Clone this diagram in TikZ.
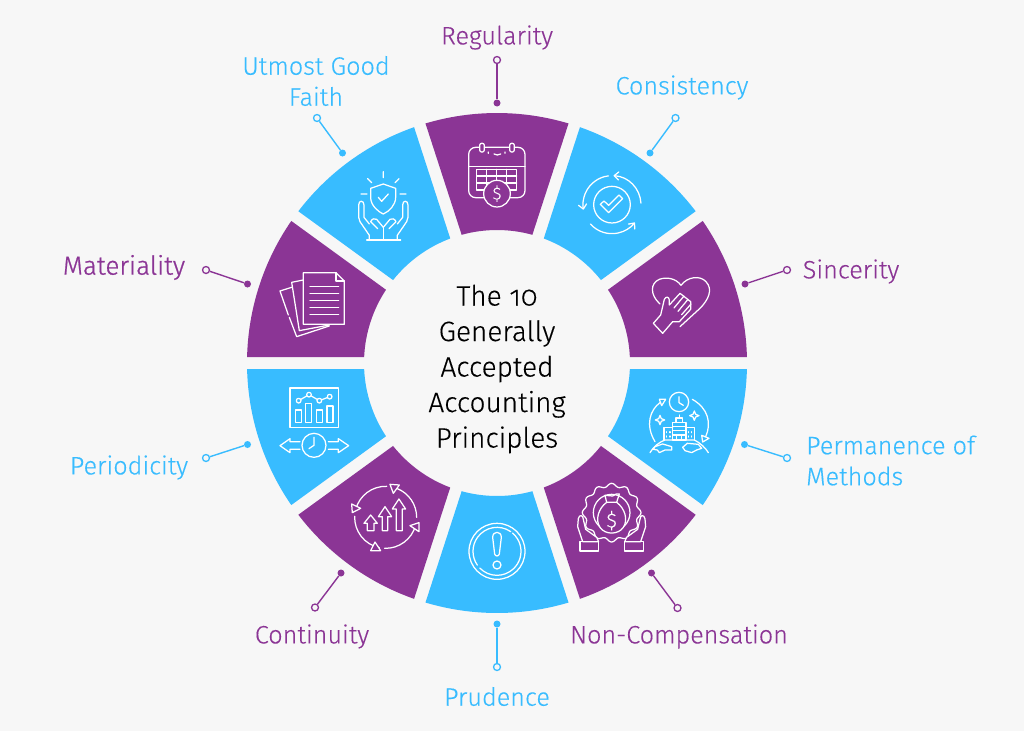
\documentclass[tikz,border=0pt]{standalone}
\usepackage{fontspec}
\usetikzlibrary{arrows.meta}
\setmainfont{Fira Sans Light}[Numbers=OldStyle,FakeBold=0.3,AutoFakeBold=0]
\definecolor{pagebg}{HTML}{F7F7F7}
\definecolor{purp}{HTML}{8B3595}
\definecolor{skyb}{HTML}{38BCFF}
\newcommand{\icarc}[5][icon]{\draw[#1] (#2) ++(-#4:#3) arc[start angle=-#4,end angle=-#5,radius=#3];}
\tikzset{
  icon/.style={draw=white,line width=1.25pt,line join=round,line cap=round},
  iconarrow/.style={icon,-{Straight Barb[length=4.5pt,width=8pt,round]}},
  signtext/.style={text=white,inner sep=0pt,font=\fontsize{17}{17}\selectfont},
  labeltext/.style={inner sep=0pt,align=center,font=\fontsize{25.2}{31}\selectfont},
  leaddot/.style={circle,inner sep=0pt,minimum size=7pt},
  leadring/.style={circle,inner sep=0pt,minimum size=7pt,line width=1.3pt,fill=pagebg},
  leadline/.style={line width=1.4pt}
}
\begin{document}
\begin{tikzpicture}[x=1pt,y=1pt,yscale=-1,xscale=1]
\fill[pagebg] (0,0) rectangle (1024,731);
\begin{scope}[shift={(497,363)},yscale=-1]
\foreach \a/\wcol in {72/purp,36/skyb,0/purp,-36/skyb,-72/purp,-108/skyb,-144/purp,180/skyb,144/purp,108/skyb}
  \fill[\wcol] (\a+1.375:250) arc[start angle=\a+1.375,end angle=\a+34.625,radius=250] -- (\a+33.414:133) arc[start angle=\a+33.414,end angle=\a+2.586,radius=133] -- cycle;
\end{scope}
\foreach \nm/\dx/\dy/\rx/\ry/\col in {reg/497/103/497/60/purp,con/650/153/675.5/118/skyb,sin/745/284/787/270/purp,per/744.5/444.5/787/458/skyb,non/651.5/573/677.5/608/purp,pru/497/624/497/667/skyb,cnt/341/573/315/607.5/purp,pdc/247.5/444.5/206/458/skyb,mat/247.5/284/206/270/purp,utm/342.5/153/317/118/skyb}{
  \node[leaddot,fill=\col] (\nm dot) at (\dx,\dy) {};
  \node[leadring,draw=\col] (\nm ring) at (\rx,\ry) {};
  \draw[leadline,\col] (\nm dot) -- (\nm ring);
}
\node[labeltext,text=purp] (regularity) at (497,37.5) {Regularity};
\node[labeltext,text=skyb] (utmost) at (316,81) {Utmost Good\\Faith};
\node[labeltext,text=skyb] (consistency) at (682,87.5) {Consistency};
\node[labeltext,text=purp] (sincerity) at (851,271.5) {Sincerity};
\node[labeltext,text=skyb,align=left,anchor=west] (permanence) at (806,460.5) {Permanence of\\Methods};
\node[labeltext,text=purp] (noncomp) at (679,636.5) {Non-Compensation};
\node[labeltext,text=skyb] (prudence) at (497,696.5) {Prudence};
\node[labeltext,text=purp] (continuity) at (312,636.5) {Continuity};
\node[labeltext,text=skyb] (periodicity) at (129,467.5) {Periodicity};
\node[labeltext,text=purp,font=\fontsize{26}{31}\selectfont\addfontfeature{FakeBold=0.8}] (materiality) at (124,267.5) {Materiality};
\node[inner sep=0pt,align=center,text=black,font=\fontsize{28}{35.5}\selectfont] (title) at (497,369) {The 10\\Generally\\Accepted\\Accounting\\Principles};
\begin{scope}[shift={(420,90)},scale=0.3333]
\draw[icon,rounded corners=7pt] (146,230) -- (146,172) -- (315,172) -- (315,323) -- (146,323) -- cycle;
\draw[icon] (146,230) -- (315,230);
\draw[icon,fill=purp,rounded corners=2pt] (179,160) rectangle (193,186);
\draw[icon,fill=purp,rounded corners=2pt] (269,160) rectangle (283,186);
\draw[icon] (205,186) -- (205,190) (255,186) -- (255,190) (222,192) .. controls (228,196) and (236,196) .. (242,192);
\draw[icon] (170,238) rectangle (290,300) (170,258) -- (290,258) (170,279) -- (290,279) (200,238) -- (200,300) (230,238) -- (230,300) (260,238) -- (260,300);
\draw[icon,fill=purp] (231,311) circle (40);
\node[signtext] (calsign) at (231,311) {\$};
\draw[icon] (576,344) circle (55);
\draw[icon] (541,343) -- (552,333) -- (566,346) -- (597,315) -- (608,326) -- (566,368) -- cycle;
\icarc[iconarrow]{576,344}{87}{3}{87}
\icarc[iconarrow]{576,344}{87}{97}{190}
\icarc[iconarrow]{576,344}{87}{222}{322}
\end{scope}
\begin{scope}[shift={(240,110)},scale=0.3333]
\draw[icon] (430,222) -- (392,235) -- (392,262) .. controls (392,285) and (412,304) .. (430,312) .. controls (448,304) and (467,285) .. (467,262) -- (467,235) -- cycle;
\draw[icon] (415,262) -- (425,274) -- (445,252);
\draw[icon] (430,185) -- (430,203) (383,206) -- (395,218) (477,206) -- (465,218) (363,252) -- (381,252) (480,252) -- (498,252);
\draw[icon] (380,390) -- (482,390) (430,355) -- (430,390);
\draw[icon] (388,390) -- (388,376) -- (360,335) -- (356,322) -- (356,285) .. controls (356,270) and (372,270) .. (372,285) -- (372,322) -- (388,342);
\draw[icon] (472,390) -- (472,376) -- (500,335) -- (504,322) -- (504,285) .. controls (504,270) and (488,270) .. (488,285) -- (488,322) -- (472,342);
\draw[icon] (413,356) -- (392,335) .. controls (396,326) and (404,324) .. (410,328) -- (430,352);
\draw[icon] (447,356) -- (468,335) .. controls (464,326) and (456,324) .. (450,328) -- (430,352);
\draw[icon] (155,532) -- (120,543) -- (145,615) (148,622) -- (170,680) -- (268,648);
\draw[icon] (190,510) -- (155,517) -- (178,662) -- (268,645);
\draw[icon,fill=purp] (190,488) -- (288,488) -- (313,513) -- (313,643) -- (190,643) -- cycle;
\draw[icon] (288,488) -- (288,513) -- (313,513);
\foreach \ly in {530,551,572,593,614}
  \draw[icon] (210,\ly) -- (296,\ly);
\end{scope}
\begin{scope}[shift={(600,220)},scale=0.3333]
\draw[icon] (180,252) .. controls (150,225) and (150,190) .. (178,178) .. controls (200,170) and (228,175) .. (243,196) .. controls (262,170) and (300,165) .. (318,185) .. controls (340,208) and (325,240) .. (300,265) -- (240,320);
\draw[icon,fill=purp] (160,310) -- (182,285) -- (193,238) .. controls (198,228) and (207,230) .. (208,240) -- (208,255) -- (240,220) -- (272,245) -- (272,268) -- (238,305) -- (218,305) -- (188,340) -- cycle;
\draw[icon] (222,264) -- (252,228) (234,274) -- (264,238) (245,284) -- (273,252);
\draw[icon] (237,546) circle (29);
\draw[icon] (237,530) -- (237,548) -- (250,556);
\draw[icon] (165,665) .. controls (135,615) and (150,570) .. (180,548);
\draw[icon] (178,538) -- (197,538) -- (185,557) -- cycle;
\draw[icon] (277,538) .. controls (325,565) and (335,610) .. (317,650);
\draw[icon] (305,646) -- (327,655) -- (308,666) -- cycle;
\foreach \sx/\sy in {180/600,283/587}
  \draw[icon] (\sx,\sy-14) -- (\sx+4,\sy-4) -- (\sx+14,\sy) -- (\sx+4,\sy+4) -- (\sx,\sy+14) -- (\sx-4,\sy+4) -- (\sx-14,\sy) -- (\sx-4,\sy-4) -- cycle;
\draw[icon] (218,607) rectangle (258,660) (228,607) -- (228,594) -- (248,594) -- (248,607) (238,585) -- (238,594);
\draw[icon] (192,660) -- (192,622) -- (218,622) (258,622) -- (283,622) -- (283,660);
\draw[icon] (218,620) -- (258,620) (218,632) -- (258,632) (218,645) -- (258,645) (229,660) -- (229,645) (245,660) -- (245,645);
\draw[icon] (200,635) -- (200,638) (210,635) -- (210,638) (200,648) -- (200,651) (210,648) -- (210,651) (266,635) -- (266,638) (275,635) -- (275,638) (266,648) -- (266,651) (275,648) -- (275,651);
\draw[icon] (150,698) .. controls (160,680) and (180,665) .. (195,660) -- (283,660) .. controls (300,668) and (318,685) .. (325,698);
\draw[icon,fill=skyb] (165,680) -- (188,672) -- (215,680) -- (215,690) -- (195,690) -- (178,698) -- (172,690) -- (160,688) -- cycle;
\draw[icon,fill=skyb] (248,682) -- (262,670) -- (295,673) -- (305,685) -- (290,690) -- (275,698) -- (255,692) -- cycle;
\end{scope}
\begin{scope}[shift={(420,440)},scale=0.3333]
\draw[icon] plot[domain=0:360,samples=145,smooth] ({575+(83+5*cos(12*\x))*cos(\x)},{218+(83+5*cos(12*\x))*sin(\x)});
\draw[icon] (575,218) circle (55);
\draw[icon,fill=purp] (488,305) -- (473,260) -- (475,236) .. controls (478,222) and (490,225) .. (490,238) -- (497,268) -- (530,292) -- (536,305) -- cycle;
\draw[icon,fill=purp] (662,305) -- (677,260) -- (675,236) .. controls (672,222) and (660,225) .. (660,238) -- (653,268) -- (620,292) -- (614,305) -- cycle;
\draw[icon] (480,305) rectangle (536,333) (614,305) rectangle (670,333);
\draw[icon,fill=purp] (560,187) .. controls (535,205) and (525,240) .. (540,262) .. controls (555,285) and (595,285) .. (610,262) .. controls (625,240) and (615,205) .. (590,187) -- cycle;
\draw[icon] (560,187) -- (555,166) .. controls (565,162) and (570,172) .. (578,168) .. controls (585,163) and (590,160) .. (598,162) -- (590,187);
\node[signtext,font=\fontsize{20}{20}\selectfont] (bagsign) at (575,242) {\$};
\draw[icon] (231,334) circle (84);
\icarc{231,334}{72}{55}{215}
\icarc{231,334}{72}{224}{410}
\draw[icon] (218,292) .. controls (218,272) and (244,272) .. (244,292) -- (238,342) .. controls (236,350) and (226,350) .. (224,342) -- cycle;
\draw[icon] (231,375) circle (12);
\end{scope}
\begin{scope}[shift={(240,360)},scale=0.3333]
\icarc{437,472}{93}{88}{165}
\icarc{437,472}{93}{178}{258}
\icarc{437,472}{93}{268}{345}
\icarc{437,472}{93}{0}{68}
\draw[icon,fill=purp] (450,373) -- (478,375) -- (460,400) -- cycle;
\draw[icon,fill=purp] (335,432) -- (362,445) -- (337,458) -- cycle;
\draw[icon,fill=purp] (392,572) -- (422,572) -- (405,546) -- cycle;
\draw[icon,fill=purp] (510,497) -- (537,488) -- (537,515) -- cycle;
\draw[icon] (392,465) -- (372,490) -- (382,490) -- (382,512) -- (402,512) -- (402,490) -- (412,490) -- cycle;
\draw[icon] (435,440) -- (415,470) -- (427,470) -- (427,512) -- (443,512) -- (443,470) -- (455,470) -- cycle;
\draw[icon] (477,417) -- (457,447) -- (469,447) -- (469,512) -- (487,512) -- (487,447) -- (497,447) -- cycle;
\draw[icon] (150,84) rectangle (296,202);
\draw[icon] (167,150) rectangle (185,188) (197,130) rectangle (215,188) (229,150) rectangle (247,188) (261,138) rectangle (279,188);
\draw[icon] (176,122) -- (207,104) -- (238,122) -- (269,110);
\foreach \px/\py in {176/122,207/104,238/122,269/110}
  \draw[icon,fill=skyb] (\px,\py) circle (7);
\draw[icon] (222,256) circle (36);
\draw[icon] (222,232) -- (222,256) -- (207,266);
\draw[icon] (180,245) -- (150,245) -- (150,236) -- (120,257) -- (150,278) -- (150,268) -- (180,268);
\draw[icon] (265,245) -- (295,245) -- (295,236) -- (326,257) -- (295,278) -- (295,268) -- (265,268);
\end{scope}
\end{tikzpicture}
\end{document}
